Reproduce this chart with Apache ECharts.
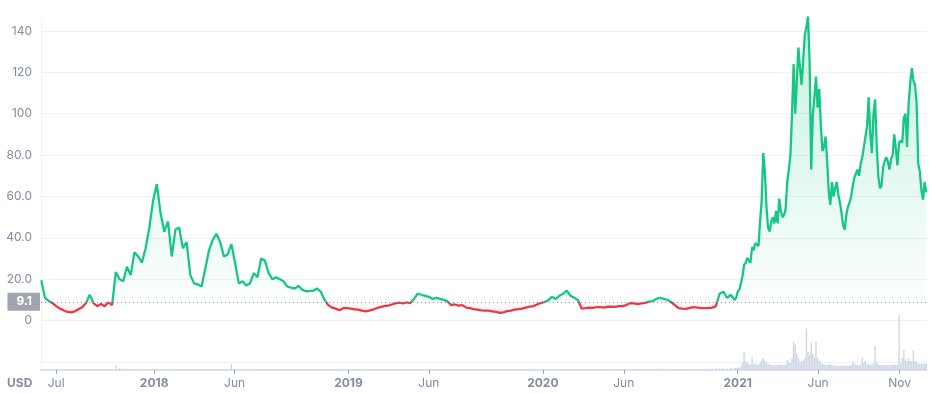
<!DOCTYPE html>
<html><head><meta charset="utf-8">
<script src="https://cdn.jsdelivr.net/npm/echarts@6/dist/echarts.min.js"></script>
<style>html,body{margin:0;padding:0;background:#fff}#c{width:932px;height:394px}</style>
</head><body><div id="c"></div>
<script>
// ---- data ----
const weeklyStart = '2017-06-03';   // 7-day steps
const weeklyPrice = [
19.5,11,9.5,8.5,7,5.8,5,4.2,4,4.5,
5.5,6.5,8.5,12.5,8.5,7,8,7,8.8,7.5,
23.5,20,19,26,22,33,31,28,35,45,
58,66,52,43,48,31,44,45,35,38,
22,18,17.5,16.5,25,34,39,42,38,31,
32,37,28,18,19,17,18,23,21,30,
29,23,20,21,20,19,16.5,16,15.5,16.8,
15,14.2,14.3,14.5,15.5,14,10,7.5,6.3,5.8,
5,6,6,5.8,5.5,5.3,4.8,4.5,4.8,5.3,
6,6.5,7,7.2,7.8,8.3,8.7,8.3,8.8,8.5,
10.5,13,12.5,12,11.5,10.5,11,10.5,10,9.3,
7.5,7.8,7.3,7.5,6.3,6,5.6,5.3,5,4.8,
4.8,4.5,4.2,3.8,4,4.6,4.8,5.3,5.6,5.8,
6.3,6.8,7,7.8,8.5,9,9.8,11.5,10.5,12,
13,14.5,12,11,10,5.8,6,6.3,6.2,6.5,
6.5,6.3,6.8,6.7,6.6,7,7,7.5,8.5,8.3,
8,8.3,8.6,9.2,9.4,10.5,11,10.5,10,9,
7.5,6,5.8,5.7,6.2,6.5,6.3,6,6,6.1,
6.3,7,13,14,11,12.5,10
];
const weeklyVolume = [
12,10,10,9,9,8,8,8,8,9,
10,10,14,16,12,10,10,10,10,12,
80,30,25,18,15,15,14,16,18,20,
25,22,18,16,14,12,12,12,11,11,
12,11,10,10,10,12,12,11,10,12,
20,105,30,18,14,12,11,10,12,11,
10,10,9,9,9,10,9,8,8,8,
8,8,8,9,12,10,9,8,8,7,
7,7,7,7,7,7,7,7,7,7,
7,7,7,7,8,8,8,8,8,9,
12,14,12,10,9,9,8,8,8,8,
8,8,7,7,7,7,7,7,7,7,
7,7,7,7,7,7,7,7,7,8,
8,8,8,9,9,9,10,11,10,12,
13,14,12,11,10,14,10,9,9,9,
9,9,10,10,10,11,12,13,14,14,
14,15,16,17,18,20,22,20,18,16,
14,14,14,14,15,16,16,17,18,20,
25,28,35,35,30,35,35
];
const dailyStart = '2020-12-29';    // 3-day steps
const dailyPrice = [
11,14,15,18,21.5,27,28,30.3,29,28,
35.5,34,37.5,37,36,48,58,81,72,55,
45,43,48,50,47,53,47,59,53,50,
51,54,67,73,80,100,124,100,116,132,
122,114,126,138,142,147,126,73,99,108,
118,103,112,95,82,84,89,77,62,56,
67,60,64,67,61,57,52,46,44,51,
55,57,60,65,69,71,73,70,76,79,
84,89,94,108,90,81,100,107,85,70,
64,65,74,77,79,77,73,78,80,90,
83,75,86,87,86,98,100,84,105,115,
122,116,114,105,76,72,63,58.5,67,62
];
const dailyVolume = [
35,40,40,50,120,300,140,120,100,90,
217,110,100,95,90,120,150,200,150,120,
100,90,85,80,85,80,80,90,85,80,
85,90,167,130,120,200,470,420,270,200,
150,140,160,200,690,300,250,450,270,200,
480,200,150,120,100,90,85,80,90,100,
85,80,75,70,70,70,75,80,75,70,
70,75,80,145,100,90,85,80,90,200,
130,150,100,90,85,90,110,400,120,90,
85,80,85,80,80,85,80,85,90,90,
85,90,917,130,200,333,180,150,200,150,
150,330,150,130,110,100,100,110,100,110
];
const baseline = 9.1;
const xTickDates = ['2017-07-01','2018-01-01','2018-06-01','2019-01-01','2019-06-01','2020-01-01','2020-06-01','2021-01-01','2021-06-01','2021-11-01'];
const xTickLabels = ['Jul','2018','Jun','2019','Jun','2020','Jun','2021','Jun','Nov'];
const axisStart = '2017-06-02T12:00:00Z';
const axisEnd = '2021-12-22T12:00:00Z';

// ---- build ----
const DAY = 86400000;
const t = s => Date.parse(s.length > 10 ? s : s + 'T00:00:00Z');
const wT = weeklyPrice.map((_, i) => t(weeklyStart) + i * 7 * DAY);
const dT = dailyPrice.map((_, i) => t(dailyStart) + i * 3 * DAY);
const priceData = wT.map((x, i) => [x, weeklyPrice[i]]).concat(dT.map((x, i) => [x, dailyPrice[i]]));
const volData = wT.map((x, i) => [x, weeklyVolume[i]]).concat(dT.map((x, i) => [x, dailyVolume[i]]));
const tickTimes = xTickDates.map(t);
const xMin = t(axisStart), xMax = t(axisEnd);

const GRAY = '#858ca2';
const FONT = 'Inter, "Noto Sans", sans-serif';
const chart = echarts.init(document.getElementById('c'), null, {renderer: 'canvas'});
chart.setOption({
  animation: false,
  backgroundColor: '#fff',
  textStyle: {fontFamily: FONT},
  grid: [
    {left: 41, right: 5, top: 17, bottom: 32},
    {left: 41, right: 5, bottom: 24, height: 60}
  ],
  xAxis: [
    {gridIndex: 0, type: 'value', min: xMin, max: xMax, show: false, splitLine: {show: false}},
    {gridIndex: 1, type: 'value', min: xMin, max: xMax,
     axisLine: {show: true, lineStyle: {color: '#cfd6e4', width: 1.5}},
     axisTick: {show: true, customValues: tickTimes, length: 4, lineStyle: {color: '#a1a7bb'}},
     splitLine: {show: false},
     axisLabel: {customValues: tickTimes, margin: 7, color: GRAY, fontSize: 12, fontFamily: FONT,
       formatter: v => {
         const k = tickTimes.indexOf(v);
         const s = k >= 0 ? xTickLabels[k] : '';
         return /^\d{4}$/.test(s) ? '{b|' + s + '}' : s;
       },
       rich: {b: {fontWeight: 'bold', color: GRAY, fontSize: 12, fontFamily: FONT}}
     }}
  ],
  yAxis: [
    {gridIndex: 0, type: 'value', min: -20, max: 146.76, interval: 20,
     axisLine: {show: true, lineStyle: {color: '#eff2f5'}},
     axisTick: {show: false},
     splitLine: {show: true, showMaxLine: false, lineStyle: {color: '#eff2f5'}},
     axisLabel: {showMaxLabel: false, color: GRAY, fontSize: 12, fontFamily: FONT, margin: 9,
       formatter: v => v < 0 || v % 20 !== 0 ? '' : (v === 0 ? '0' : (v >= 100 ? String(v) : v.toFixed(1)))}},
    {gridIndex: 1, type: 'value', min: 0, max: 1000,
     axisLine: {show: true, lineStyle: {color: '#eff2f5'}},
     axisTick: {show: false}, axisLabel: {show: false}, splitLine: {show: false}}
  ],
  visualMap: {
    type: 'piecewise', show: false, seriesIndex: 0, dimension: 1,
    pieces: [{gt: -1000, lte: baseline, color: '#ea3943'}, {gt: baseline, lte: 10000, color: '#16c784'}]
  },
  series: [
    {type: 'line', xAxisIndex: 0, yAxisIndex: 0, data: priceData, showSymbol: false, z: 3,
     lineStyle: {width: 2.3},
     areaStyle: {origin: baseline, opacity: 1,
       color: {type: 'linear', x: 0, y: 0, x2: 0, y2: 1, colorStops: [
         {offset: 0, color: 'rgba(22,199,132,0.24)'},
         {offset: 0.955, color: 'rgba(22,199,132,0.02)'},
         {offset: 0.965, color: 'rgba(234,57,67,0.03)'},
         {offset: 1, color: 'rgba(234,57,67,0.08)'}]}},
     markLine: {silent: true, symbol: 'none', animation: false,
       data: [{yAxis: baseline}],
       lineStyle: {type: [1, 3], color: '#8a93a6', width: 1},
       label: {position: 'start', distance: 1, formatter: String(baseline), color: '#fff',
         backgroundColor: '#a0a5b0', padding: [3, 8, 3, 9], fontWeight: 'bold', fontSize: 12, fontFamily: FONT},
       emphasis: {disabled: true}}},
    {type: 'bar', xAxisIndex: 1, yAxisIndex: 1, data: volData, barWidth: 1.4,
     itemStyle: {color: '#cfd6e4'}, z: 2}
  ],
  graphic: [{type: 'text', left: 7, top: 377,
    style: {text: 'USD', font: 'bold 12px ' + FONT, fill: GRAY}}]
});
</script>
</body></html>
